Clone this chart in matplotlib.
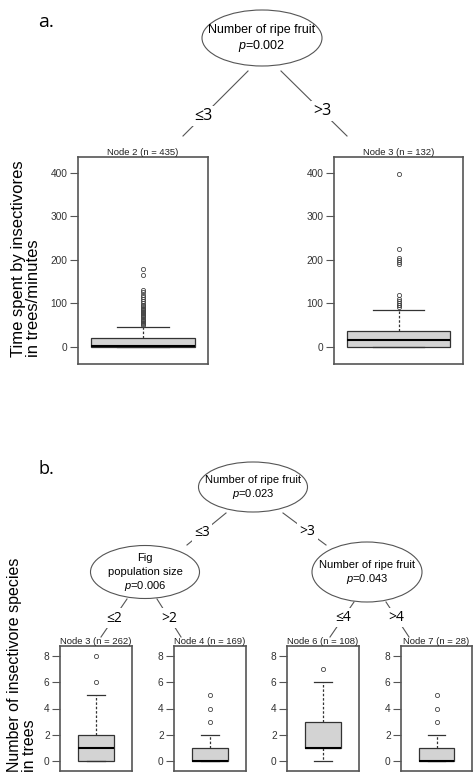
import numpy as np
import matplotlib
matplotlib.use("Agg")
import matplotlib.pyplot as plt
from matplotlib.patches import Ellipse

plt.rcParams["font.family"] = ["Liberation Sans", "DejaVu Sans"]
plt.rcParams["mathtext.fontset"] = "custom"
plt.rcParams["mathtext.it"] = "Liberation Sans:italic"
plt.rcParams["mathtext.rm"] = "Liberation Sans"

W, H = 474, 774

# ---- data: tree a (time spent, minutes) ----
a_titles = ["Node 2 (n = 435)", "Node 3 (n = 132)"]
a_whislo = [0, 0]
a_q1 = [0, 0]
a_med = [2, 15]
a_q3 = [20, 37]
a_whishi = [46, 85]
a_fliers = [
    [50, 52, 55, 58, 60, 62, 65, 68, 70, 72, 75, 78, 80, 83, 85, 88, 90, 93,
     96, 100, 105, 110, 115, 120, 125, 130, 165, 180],
    [92, 95, 97, 100, 105, 110, 118, 190, 195, 200, 205, 225, 397],
]
a_ticks = [0, 100, 200, 300, 400]

# ---- data: tree b (number of species) ----
b_titles = ["Node 3 (n = 262)", "Node 4 (n = 169)", "Node 6 (n = 108)", "Node 7 (n = 28)"]
b_whislo = [0, 0, 0, 0]
b_q1 = [0, 0, 1, 0]
b_med = [1, 0, 1, 0]
b_q3 = [2, 1, 3, 1]
b_whishi = [5, 2, 6, 2]
b_fliers = [[6, 8], [3, 4, 5], [7], [3, 4, 5]]
b_ticks = [0, 2, 4, 6, 8]


def px(l, t, r, b):
    return [l / W, 1 - b / H, (r - l) / W, (b - t) / H]


def make_stats(whislo, q1, med, q3, whishi, fliers):
    out = []
    for i in range(len(med)):
        out.append(dict(whislo=whislo[i], q1=q1[i], med=med[i], q3=q3[i],
                        whishi=whishi[i], fliers=fliers[i]))
    return out


def data_ylim(stats):
    lo = min(min([s["whislo"]] + list(s["fliers"])) for s in stats)
    hi = max(max([s["whishi"]] + list(s["fliers"])) for s in stats)
    ext = 0.1 * (hi - lo)
    return lo - ext, hi + ext


def box_panel(rect, stat, title, ticks, ylim, width):
    ax = fig.add_axes(px(*rect))
    ax.bxp([stat], positions=[0.5], widths=width, capwidths=width / 2,
           patch_artist=True, showfliers=True,
           boxprops=dict(facecolor="#d3d3d3", edgecolor="#333333", linewidth=0.9),
           medianprops=dict(color="black", linewidth=1.5),
           whiskerprops=dict(color="#333333", linestyle=(0, (2, 1.5)), linewidth=0.9),
           capprops=dict(color="#333333", linewidth=0.9),
           flierprops=dict(marker="o", markersize=3, markerfacecolor="none",
                           markeredgecolor="#444444", markeredgewidth=0.6))
    ax.set_xlim(0, 1)
    ax.set_ylim(ylim)
    ax.set_xticks([])
    ax.set_yticks(ticks)
    ax.tick_params(axis="y", direction="out", length=5.5, width=0.8, color="#555555",
                   labelsize=7.3, labelcolor="#333333", pad=2)
    for sp in ax.spines.values():
        sp.set_color("#555555")
        sp.set_linewidth(1.2)
    ax.set_title(title, fontsize=6.8, pad=1.5, color="#222222")
    return ax


def split_node(ov, cx, cy, w, h, lines, fs):
    ov.add_patch(Ellipse((cx, cy), w, h, facecolor="white", edgecolor="#555555", lw=0.8))
    n = len(lines)
    step = fs * 1.75
    y0 = cy - step * (n - 1) / 2
    for i, s in enumerate(lines):
        ov.text(cx, y0 + i * step, s, ha="center", va="center", fontsize=fs)


def edge(ov, p0, p1, t, label, fs):
    ov.plot([p0[0], p1[0]], [p0[1], p1[1]], color="#555555", lw=0.8)
    lx = p0[0] + t * (p1[0] - p0[0])
    ly = p0[1] + t * (p1[1] - p0[1])
    ov.text(lx, ly, label, ha="center", va="center", fontsize=fs,
            family=["Open Sans", "DejaVu Sans"],
            bbox=dict(facecolor="white", edgecolor="none", pad=1.5))


fig = plt.figure(figsize=(W / 100, H / 100), dpi=100)

ov = fig.add_axes([0, 0, 1, 1])
ov.set_xlim(0, W)
ov.set_ylim(H, 0)
ov.axis("off")

# ---- tree a ----
ov.text(46, 22, "a.", fontsize=14, ha="center", va="center", family=["Open Sans", "DejaVu Sans"])
split_node(ov, 262, 38, 120, 56, ["Number of ripe fruit", "$p$=0.002"], 9)
edge(ov, (248, 71), (183, 136), 0.69, "\u22643", 11.5)
edge(ov, (281, 71), (347, 136), 0.62, ">3", 11.5)

a_stats = make_stats(a_whislo, a_q1, a_med, a_q3, a_whishi, a_fliers)
a_lim = data_ylim(a_stats)
a_rects = [(78, 157, 208, 364), (334, 157, 463, 364)]
for i in range(len(a_stats)):
    box_panel(a_rects[i], a_stats[i], a_titles[i], a_ticks, a_lim, 0.8)

fig.text(26 / W, 1 - 357 / H, "Time spent by insectivores\nin trees/minutes",
         rotation=90, ha="center", va="bottom", multialignment="left",
         fontsize=12, linespacing=1.0)

# ---- tree b ----
ov.text(46, 469, "b.", fontsize=13, ha="center", va="center", family=["Open Sans", "DejaVu Sans"])
split_node(ov, 253, 487, 109, 50, ["Number of ripe fruit", "$p$=0.023"], 8)
split_node(ov, 145, 572, 109, 53, ["Fig", "population size", "$p$=0.006"], 8)
split_node(ov, 367, 572, 110, 60, ["Number of ripe fruit", "$p$=0.043"], 8)
edge(ov, (226, 513), (187, 545), 0.62, "\u22643", 10)
edge(ov, (283, 513), (326, 545), 0.57, ">3", 10)
edge(ov, (127, 599), (101, 637), 0.5, "\u22642", 10)
edge(ov, (157, 599), (181, 637), 0.5, ">2", 10)
edge(ov, (354, 602), (330, 637), 0.45, "\u22644", 10)
edge(ov, (386, 602), (409, 637), 0.45, ">4", 10)

b_stats = make_stats(b_whislo, b_q1, b_med, b_q3, b_whishi, b_fliers)
b_lim = data_ylim(b_stats)
b_rects = [(60, 646, 132, 771), (174, 646, 246, 771), (287, 646, 359, 771), (401, 646, 472, 771)]
for i in range(len(b_stats)):
    box_panel(b_rects[i], b_stats[i], b_titles[i], b_ticks, b_lim, 0.5)

fig.text(22 / W, 1 - 772 / H, "Number of insectivore species\nin trees",
         rotation=90, ha="center", va="bottom", multialignment="left",
         fontsize=11.5, linespacing=1.0)

fig.savefig("out.png", dpi=100)
